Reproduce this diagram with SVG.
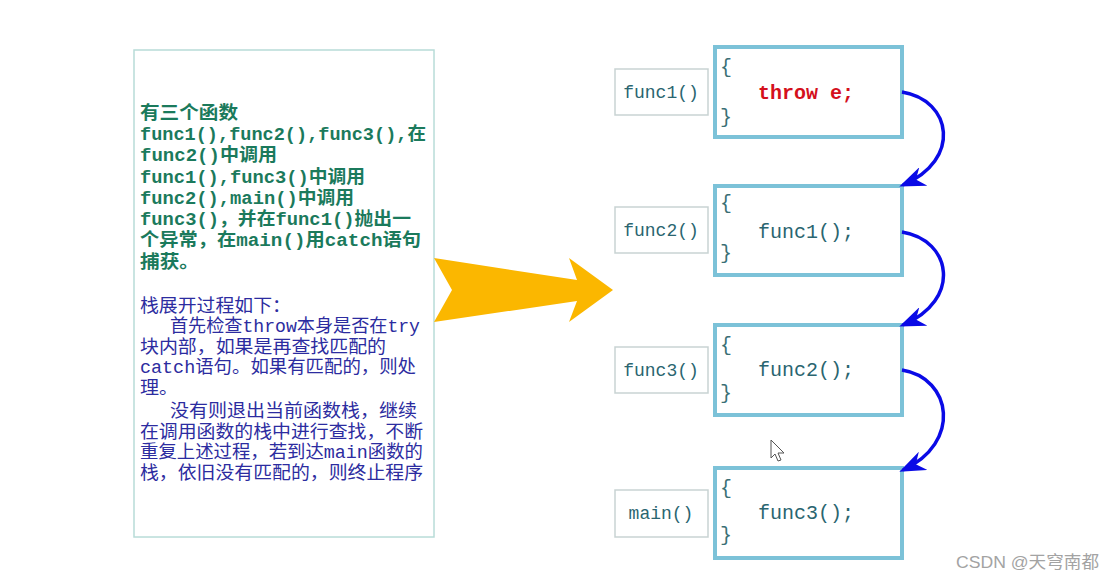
<svg xmlns="http://www.w3.org/2000/svg" width="1114" height="585" viewBox="0 0 1114 585">
<defs>
<style>
.g{font-family:"Liberation Mono","Noto Sans CJK SC",monospace;font-size:18px;fill:#1b7a5c;font-weight:bold}
.b{font-family:"Liberation Mono","Noto Sans CJK SC",monospace;font-size:18px;fill:#2c2ca0}
.lbl{fill:#ffffff;stroke:#c9d3d3;stroke-width:1.5}
.frame{fill:#ffffff;stroke:#7cc2d8;stroke-width:4}
.lt{font-family:"Liberation Mono",monospace;font-size:18px;fill:#2a6570;text-anchor:middle}
.code{font-family:"Liberation Mono",monospace;font-size:20px;fill:#2a6570}
.br{font-family:"Liberation Mono",monospace;font-size:20px;fill:#3a6f75}
.conn{fill:none;stroke:#0a0ae6;stroke-width:3.5}
</style>
<marker id="ah" markerUnits="userSpaceOnUse" markerWidth="26" markerHeight="20" refX="22" refY="10" orient="auto">
<path d="M0,0 L26,10 L0,20 L8,10 z" fill="#0a0ae6"/>
</marker>
</defs>
<rect width="1114" height="585" fill="#ffffff"/>

<g id="desc">
<rect x="134" y="50" width="300" height="487" fill="#ffffff" stroke="#b8dcd8" stroke-width="1.5"/>
<text class="g" x="140" y="119" textLength="98" lengthAdjust="spacingAndGlyphs">有三个函数</text>
<text class="g" x="140" y="140" textLength="286" lengthAdjust="spacingAndGlyphs">func1(),func2(),func3(),在</text>
<text class="g" x="140" y="161" textLength="137" lengthAdjust="spacingAndGlyphs">func2()中调用</text>
<text class="g" x="140" y="183" textLength="225" lengthAdjust="spacingAndGlyphs">func1(),func3()中调用</text>
<text class="g" x="140" y="204" textLength="214" lengthAdjust="spacingAndGlyphs">func2(),main()中调用</text>
<text class="g" x="140" y="225" textLength="271" lengthAdjust="spacingAndGlyphs">func3()，并在func1()抛出一</text>
<text class="g" x="140" y="246" textLength="281" lengthAdjust="spacingAndGlyphs">个异常，在main()用catch语句</text>
<text class="g" x="140" y="268" textLength="59" lengthAdjust="spacingAndGlyphs">捕获。</text>
<text class="b" x="140" y="312" textLength="151" lengthAdjust="spacingAndGlyphs">栈展开过程如下：</text>
<text class="b" x="170" y="332" textLength="250" lengthAdjust="spacingAndGlyphs">首先检查throw本身是否在try</text>
<text class="b" x="140" y="353" textLength="246" lengthAdjust="spacingAndGlyphs">块内部，如果是再查找匹配的</text>
<text class="b" x="140" y="373" textLength="276" lengthAdjust="spacingAndGlyphs">catch语句。如果有匹配的，则处</text>
<text class="b" x="140" y="394" textLength="38" lengthAdjust="spacingAndGlyphs">理。</text>
<text class="b" x="170" y="417" textLength="247" lengthAdjust="spacingAndGlyphs">没有则退出当前函数栈，继续</text>
<text class="b" x="140" y="438" textLength="283" lengthAdjust="spacingAndGlyphs">在调用函数的栈中进行查找，不断</text>
<text class="b" x="140" y="458" textLength="283" lengthAdjust="spacingAndGlyphs">重复上述过程，若到达main函数的</text>
<text class="b" x="140" y="479" textLength="283" lengthAdjust="spacingAndGlyphs">栈，依旧没有匹配的，则终止程序</text>
</g>

<g id="big-arrow">
<polygon points="434,258 577,280 569,258 613,290 569,322 577,301 434,322 452,290" fill="#fbb700"/>
</g>

<g id="func1">
<rect class="lbl" x="615" y="69" width="93" height="46"/>
<text class="lt" x="661" y="98">func1()</text>
<rect class="frame" x="715" y="47" width="187" height="90"/>
<text class="br" x="720" y="73">{</text>
<text class="code" x="758" y="99" style="fill:#d4101c;font-weight:bold">throw e;</text>
<text class="br" x="720" y="123">}</text>
</g>

<g id="func2">
<rect class="lbl" x="615" y="207" width="93" height="46"/>
<text class="lt" x="661" y="236">func2()</text>
<rect class="frame" x="715" y="186" width="187" height="89"/>
<text class="br" x="720" y="209">{</text>
<text class="code" x="758" y="238">func1();</text>
<text class="br" x="720" y="259">}</text>
</g>

<g id="func3">
<rect class="lbl" x="615" y="347" width="93" height="46"/>
<text class="lt" x="661" y="376">func3()</text>
<rect class="frame" x="715" y="325" width="187" height="90"/>
<text class="br" x="720" y="351">{</text>
<text class="code" x="758" y="376">func2();</text>
<text class="br" x="720" y="399">}</text>
</g>

<g id="main">
<rect class="lbl" x="615" y="490" width="93" height="47"/>
<text class="lt" x="661" y="519">main()</text>
<rect class="frame" x="715" y="468" width="187" height="90"/>
<text class="br" x="720" y="494">{</text>
<text class="code" x="758" y="519">func3();</text>
<text class="br" x="720" y="541">}</text>
</g>

<g id="connectors">
<path class="conn" d="M902,92 C952,100 962,160 903,185" marker-end="url(#ah)"/>
<path class="conn" d="M902,232 C952,240 962,300 903,325" marker-end="url(#ah)"/>
<path class="conn" d="M902,370 C952,378 962,443 903,470" marker-end="url(#ah)"/>
</g>

<g id="cursor">
<path d="M771,440 L771,458 L775,454 L778,461 L781,460 L778,453 L784,453 Z" fill="#ffffff" stroke="#555555" stroke-width="1"/>
</g>

<g id="watermark">
<text x="956" y="568" font-family="'Liberation Sans','Noto Sans CJK SC',sans-serif" font-size="17" fill="#a3a3a3" textLength="143" lengthAdjust="spacingAndGlyphs">CSDN @天穹南都</text>
</g>
</svg>
